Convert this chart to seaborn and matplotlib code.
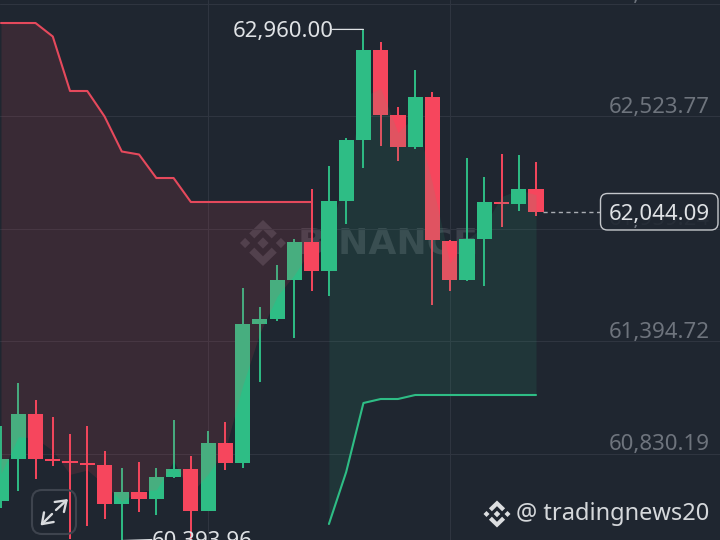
import pandas as pd
import seaborn as sns
import matplotlib.pyplot as plt
from matplotlib.patches import FancyBboxPatch, Polygon

# candles, prices
opens = [60592.6, 60803.4, 61029.3, 60803.4, 60793.4, 60783.3, 60773.3, 60577.5,
         60637.8, 60602.7, 60713.1, 60753.2, 60542.4, 60883.7, 60783.3, 61481.1,
         61506.2, 61702.0, 61892.8, 61747.2, 62098.6, 62404.8, 62856.6, 62530.3,
         62369.7, 62620.7, 61897.8, 61702.0, 61907.8, 62093.6, 62083.5, 62158.8]
highs = [60969.1, 61184.9, 61099.6, 61014.2, 60928.9, 60969.1, 60843.5, 60758.2,
         60788.2, 60758.2, 60999.2, 60818.4, 60944.0, 60989.2, 61661.8, 61566.5,
         61777.3, 61907.8, 62158.8, 62274.3, 62414.8, 62960.0, 62896.8, 62570.5,
         62756.2, 62645.8, 61902.8, 62314.4, 62219.1, 62334.5, 62329.5, 62294.4]
lows = [60557.4, 60642.8, 60703.0, 60768.3, 60400.0, 60467.1, 60502.2, 60393.96,
        60537.4, 60522.3, 60708.0, 60400.0, 60542.4, 60748.2, 60758.2, 61189.9,
        61496.2, 61410.8, 61646.7, 61621.7, 61983.1, 62264.2, 62374.7, 62299.4,
        62359.6, 61576.5, 61646.7, 61697.0, 61671.9, 61968.1, 62048.4, 62023.3]
closes = [60803.4, 61029.3, 60803.4, 60793.4, 60783.3, 60773.3, 60577.5, 60637.8,
          60602.7, 60713.1, 60753.2, 60542.4, 60883.7, 60783.3, 61481.1, 61506.2,
          61702.0, 61892.8, 61747.2, 62098.6, 62404.8, 62856.6, 62530.3, 62369.7,
          62620.7, 61902.8, 61702.0, 61907.8, 62093.6, 62086.0, 62158.8, 62044.09]

# supertrend lines
red_line = [62992.1, 62992.1, 62992.1, 62924.4, 62650.8, 62650.8, 62523.0, 62347.0,
            62332.0, 62214.0, 62214.0, 62093.6, 62093.6, 62093.6, 62093.6, 62093.6,
            62093.6, 62093.6, 62093.6]
green_line = [60477.1, 60738.0, 61084.5, 61104.6, 61104.6, 61124.7, 61124.7, 61124.7,
              61124.7, 61124.7, 61124.7, 61124.7, 61124.7]

# price scale
scale_labels = ['63,088.30', '62,523.77', '61,959.24', '61,394.72', '60,830.19']
scale_values = [63088.30, 62523.77, 61959.24, 61394.72, 60830.19]
grid_x = [12, 26]
last_price = 62044.09
high_price = 62960.00
low_price = 60393.96

bg = '#1f2630'
green = '#2ebd85'
red = '#f6465d'
grid_col = '#2f3540'
label_col = '#6e747d'
text_col = '#dfe2e5'

sns.set_theme(style='dark', rc={'axes.facecolor': bg, 'figure.facecolor': bg})
plt.rcParams['font.family'] = ['Noto Sans', 'DejaVu Sans']

df = pd.DataFrame({'open': opens, 'high': highs, 'low': lows, 'close': closes})
df['idx'] = df.index
df['mid'] = (df['open'] + df['high'] + df['low'] + df['close']) / 4

df_red = df.iloc[:len(red_line)].copy()
df_red['line'] = red_line
df_green = df.iloc[len(red_line):].copy()
df_green['line'] = green_line

fig = plt.figure(figsize=(7.2, 5.4), dpi=100)
ax = fig.add_axes([0, 0, 1, 1])
ax.set_xlim(-0.058, 41.66)
ax.set_ylim(60396.8, 63107.6)
ax.set_xticks([])
ax.set_yticks([])
for s in ax.spines.values():
    s.set_visible(False)

# overlay in pixels for the logo, box and button
ov = fig.add_axes([0, 0, 1, 1], zorder=3)
ov.set_xlim(0, 720)
ov.set_ylim(540, 0)
ov.axis('off')
ov.patch.set_alpha(0)


def logo(a, cx, cy, r, col, z):
    # binance mark: centre diamond, side diamonds, top and bottom chevrons
    u = r / 4.5
    def diamond(x, y, d):
        a.add_patch(Polygon([(x, y - d), (x + d, y), (x, y + d), (x - d, y)], color=col, lw=0, zorder=z))
    diamond(cx, cy, 1.1 * u)
    diamond(cx - 3.5 * u, cy, 1.0 * u)
    diamond(cx + 3.5 * u, cy, 1.0 * u)
    for sg in (-1, 1):
        a.add_patch(Polygon([(cx, cy + sg * 4.5 * u), (cx + 2.7 * u, cy + sg * 1.9 * u),
                             (cx + 1.7 * u, cy + sg * 0.9 * u), (cx, cy + sg * 2.6 * u),
                             (cx - 1.7 * u, cy + sg * 0.9 * u), (cx - 2.7 * u, cy + sg * 1.9 * u)],
                            color=col, lw=0, zorder=z))


# grid
for v in scale_values:
    ax.axhline(v, color=grid_col, lw=0.8, zorder=1)
for x in grid_x:
    ax.axvline(x, color=grid_col, lw=0.8, zorder=1)

# watermark sits under the candles
wm = fig.add_axes([0, 0, 1, 1], zorder=-1)
ax.patch.set_alpha(0)
wm.set_xlim(0, 720)
wm.set_ylim(540, 0)
wm.axis('off')
logo(wm, 263, 243, 23, '#3b414b', 1)
wm.text(298, 243.5, 'BINANCE', color='#3b414b', fontsize=26, fontweight='bold', va='center', ha='left',
        family='DejaVu Sans')

# candles
for row in df.itertuples():
    col = green if row.close >= row.open else red
    ax.vlines(row.idx, row.low, row.high, color=col, lw=1.4, zorder=3)
    bottom = min(row.open, row.close)
    height = max(abs(row.close - row.open), 10)
    ax.bar(row.idx, height, bottom=bottom, width=0.88, color=col, lw=0, zorder=3)

# supertrend fills and lines
ax.fill_between(df_red['idx'], df_red['line'], df_red['mid'], color=red, alpha=0.125, lw=0, zorder=4)
ax.fill_between(df_green['idx'], df_green['line'], df_green['mid'], color=green, alpha=0.11, lw=0, zorder=4)
sns.lineplot(data=df_red, x='idx', y='line', color='#e5495c', lw=1.5, ax=ax, zorder=5, estimator=None)
sns.lineplot(data=df_green, x='idx', y='line', color=green, lw=1.5, ax=ax, zorder=5, estimator=None)
ax.set_xlabel('')
ax.set_ylabel('')

# scale labels, they sit just above their grid line
for lab, v in zip(scale_labels, scale_values):
    ax.annotate(lab, (710, v), xycoords=('figure pixels', 'data'), xytext=(0, 9), textcoords='offset pixels',
                ha='right', va='center', color=label_col, fontsize=16, zorder=2, annotation_clip=False)

# high and low markers
hi_i = highs.index(high_price)
lo_i = lows.index(low_price)
line_style = dict(arrowstyle='-', color=text_col, lw=0.9, shrinkA=0, shrinkB=0)
ax.annotate(f'{high_price:,.2f}', (hi_i, high_price), xytext=(-30, -2), textcoords='offset pixels',
            ha='right', va='center', color=text_col, fontsize=16, zorder=6)
ax.annotate('', (hi_i, high_price), xytext=(-31, 0), textcoords='offset pixels', zorder=6, arrowprops=line_style)
ax.annotate(f'{low_price:,.2f}', (lo_i, low_price), xytext=(30, -1), textcoords='offset pixels',
            ha='left', va='center', color=text_col, fontsize=16, zorder=6, annotation_clip=False)
ax.annotate('', (lo_i, low_price), xytext=(30, 1), textcoords='offset pixels', zorder=6,
            annotation_clip=False, arrowprops=line_style)

# last price, dashed line and box
last_i = len(closes) - 1
y_last = (63107.6 - last_price) / 5.02
ax.hlines(last_price, last_i + 0.4, 34.7, color='#a9adb3', lw=1, ls=(0, (3, 2.5)), zorder=6)
ov.add_patch(FancyBboxPatch((606, 199), 106, 26, boxstyle='round,pad=0,rounding_size=0', lw=0, fc=bg, alpha=0.9, zorder=2))
ov.add_patch(FancyBboxPatch((600.5, 193.5), 117.5, 36.5, boxstyle='round,pad=0,rounding_size=7',
                            fc='none', ec='#c4c7cb', lw=1, zorder=3))
ov.text(659, y_last + 0.5, f'{last_price:,.2f}', color=text_col, fontsize=16, ha='center', va='center_baseline', zorder=4)

# expand button
ov.add_patch(FancyBboxPatch((32, 490), 44, 44, boxstyle='round,pad=0,rounding_size=10',
                            fc='none', ec='#3e444e', lw=1.5, zorder=3))
head = dict(arrowstyle='->,head_length=0.5,head_width=0.35', color='#d9dbde', lw=1.7,
            shrinkA=0, shrinkB=0, mutation_scale=14)
ov.annotate('', xy=(68, 499), xytext=(56, 510), arrowprops=head)
ov.annotate('', xy=(40.5, 525.5), xytext=(52, 514), arrowprops=head)

# credit
logo(ov, 497, 514, 13.5, '#dcdee0', 4)
ov.text(516, 514, '@ tradingnews20', color='#d5d8db', fontsize=17, ha='left', va='center', zorder=4)

fig.savefig('out.png', dpi=100, facecolor=bg)
